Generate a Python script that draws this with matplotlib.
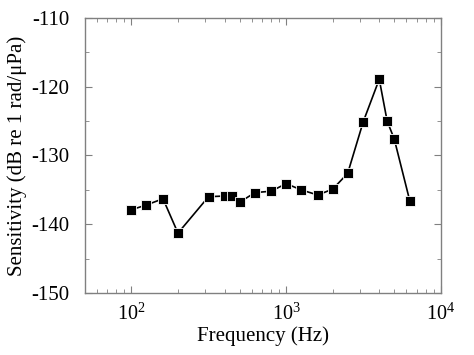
import matplotlib
matplotlib.use("Agg")
import matplotlib.pyplot as plt
from matplotlib.ticker import LogLocator, MultipleLocator, NullFormatter

plt.rcParams['font.family'] = ['Liberation Serif', 'DejaVu Serif']
plt.rcParams['mathtext.fontset'] = 'custom'
plt.rcParams['mathtext.rm'] = 'Liberation Serif'
plt.rcParams['mathtext.it'] = 'Liberation Serif:italic'
plt.rcParams['axes.unicode_minus'] = False

freq = [100, 125, 160, 200, 315, 400, 450, 500, 630, 800, 1000, 1250, 1600,
        2000, 2500, 3150, 4000, 4500, 5000, 6300]
sens = [-137.9, -137.2, -136.3, -141.3, -136.0, -135.9, -135.9, -136.8, -135.4, -135.2,
        -134.1, -135.0, -135.75, -134.9, -132.6, -125.1, -118.9, -125.0, -127.6, -136.6]

fig = plt.figure(figsize=(4.74, 3.55), dpi=100)
ax = fig.add_axes([0.179, 0.175, 0.751, 0.774])
ax.plot(freq, sens, color='black', lw=1.2, marker='s', ms=6.5,
        markerfacecolor='black', markeredgecolor='white', markeredgewidth=0.6)
ax.set_xscale('log')
ax.set_xlim(50, 1e4)
ax.set_ylim(-150, -110)
ax.yaxis.set_major_locator(MultipleLocator(10))
ax.yaxis.set_minor_locator(MultipleLocator(5))
ax.xaxis.set_major_locator(LogLocator(base=10))
ax.xaxis.set_minor_locator(LogLocator(base=10, subs=range(2, 10)))
ax.xaxis.set_minor_formatter(NullFormatter())
for s in ax.spines.values():
    s.set_color('#808080')
    s.set_linewidth(1.0)
ax.tick_params(which='both', direction='in', top=True, right=True, color='#808080')
ax.tick_params(axis='y', pad=11, labelsize=15)
ax.tick_params(axis='x', pad=8, labelsize=14.5)
ax.tick_params(which='major', length=5)
ax.tick_params(which='minor', length=3)
ax.set_xlabel('Frequency (Hz)', fontsize=15, labelpad=1)
ax.set_ylabel('Sensitivity (dB re 1 rad/μPa)', fontsize=15, labelpad=3)
fig.savefig('out.png', dpi=100)
